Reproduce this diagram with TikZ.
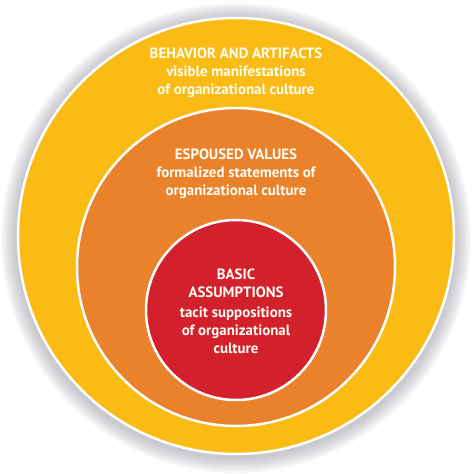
\documentclass[tikz,border=0pt]{standalone}
\usepackage{fontspec}
\setsansfont{PT Sans}
\definecolor{layerYellow}{HTML}{FBBB15}
\definecolor{layerOrange}{HTML}{E9822B}
\definecolor{layerRed}{HTML}{D2202C}
\definecolor{haloGray}{RGB}{115,115,130}
\begin{document}
\begin{tikzpicture}[x=1pt, y=-1pt, font=\sffamily\bfseries\fontsize{14.9}{18}\selectfont,
  layer/.style={circle, draw=white, line width=2.5pt, inner sep=0pt},
  caption/.style={text=white!96!yellow, align=center, inner sep=0pt}]
\fill[white] (0,0) rectangle (474,474);
\useasboundingbox (0,0) rectangle (474,474);
% soft shadow round the outer ring
\foreach \r in {221,223,...,235} \fill[haloGray, opacity=0.055] (236,238) circle (\r pt);
\node[layer, fill=layerYellow, minimum size=436pt] (artifacts) at (236,236) {};
\node[layer, fill=layerOrange, minimum size=318pt] (values) at (236,267) {};
\node[layer, fill=layerRed, minimum size=180pt] (assumptions) at (236,310) {};
\node[caption] (artifactsText) at (236,73) {BEHAVIOR AND ARTIFACTS\\ visible manifestations\\ of organizational culture};
\node[caption] (valuesText) at (236,173.5) {ESPOUSED VALUES\\ formalized statements of\\ organizational culture};
\node[caption] (assumptionsText) at (236,311) {BASIC\\ ASSUMPTIONS\\[2pt] tacit suppositions\\ of organizational\\ culture};
\end{tikzpicture}
\end{document}
